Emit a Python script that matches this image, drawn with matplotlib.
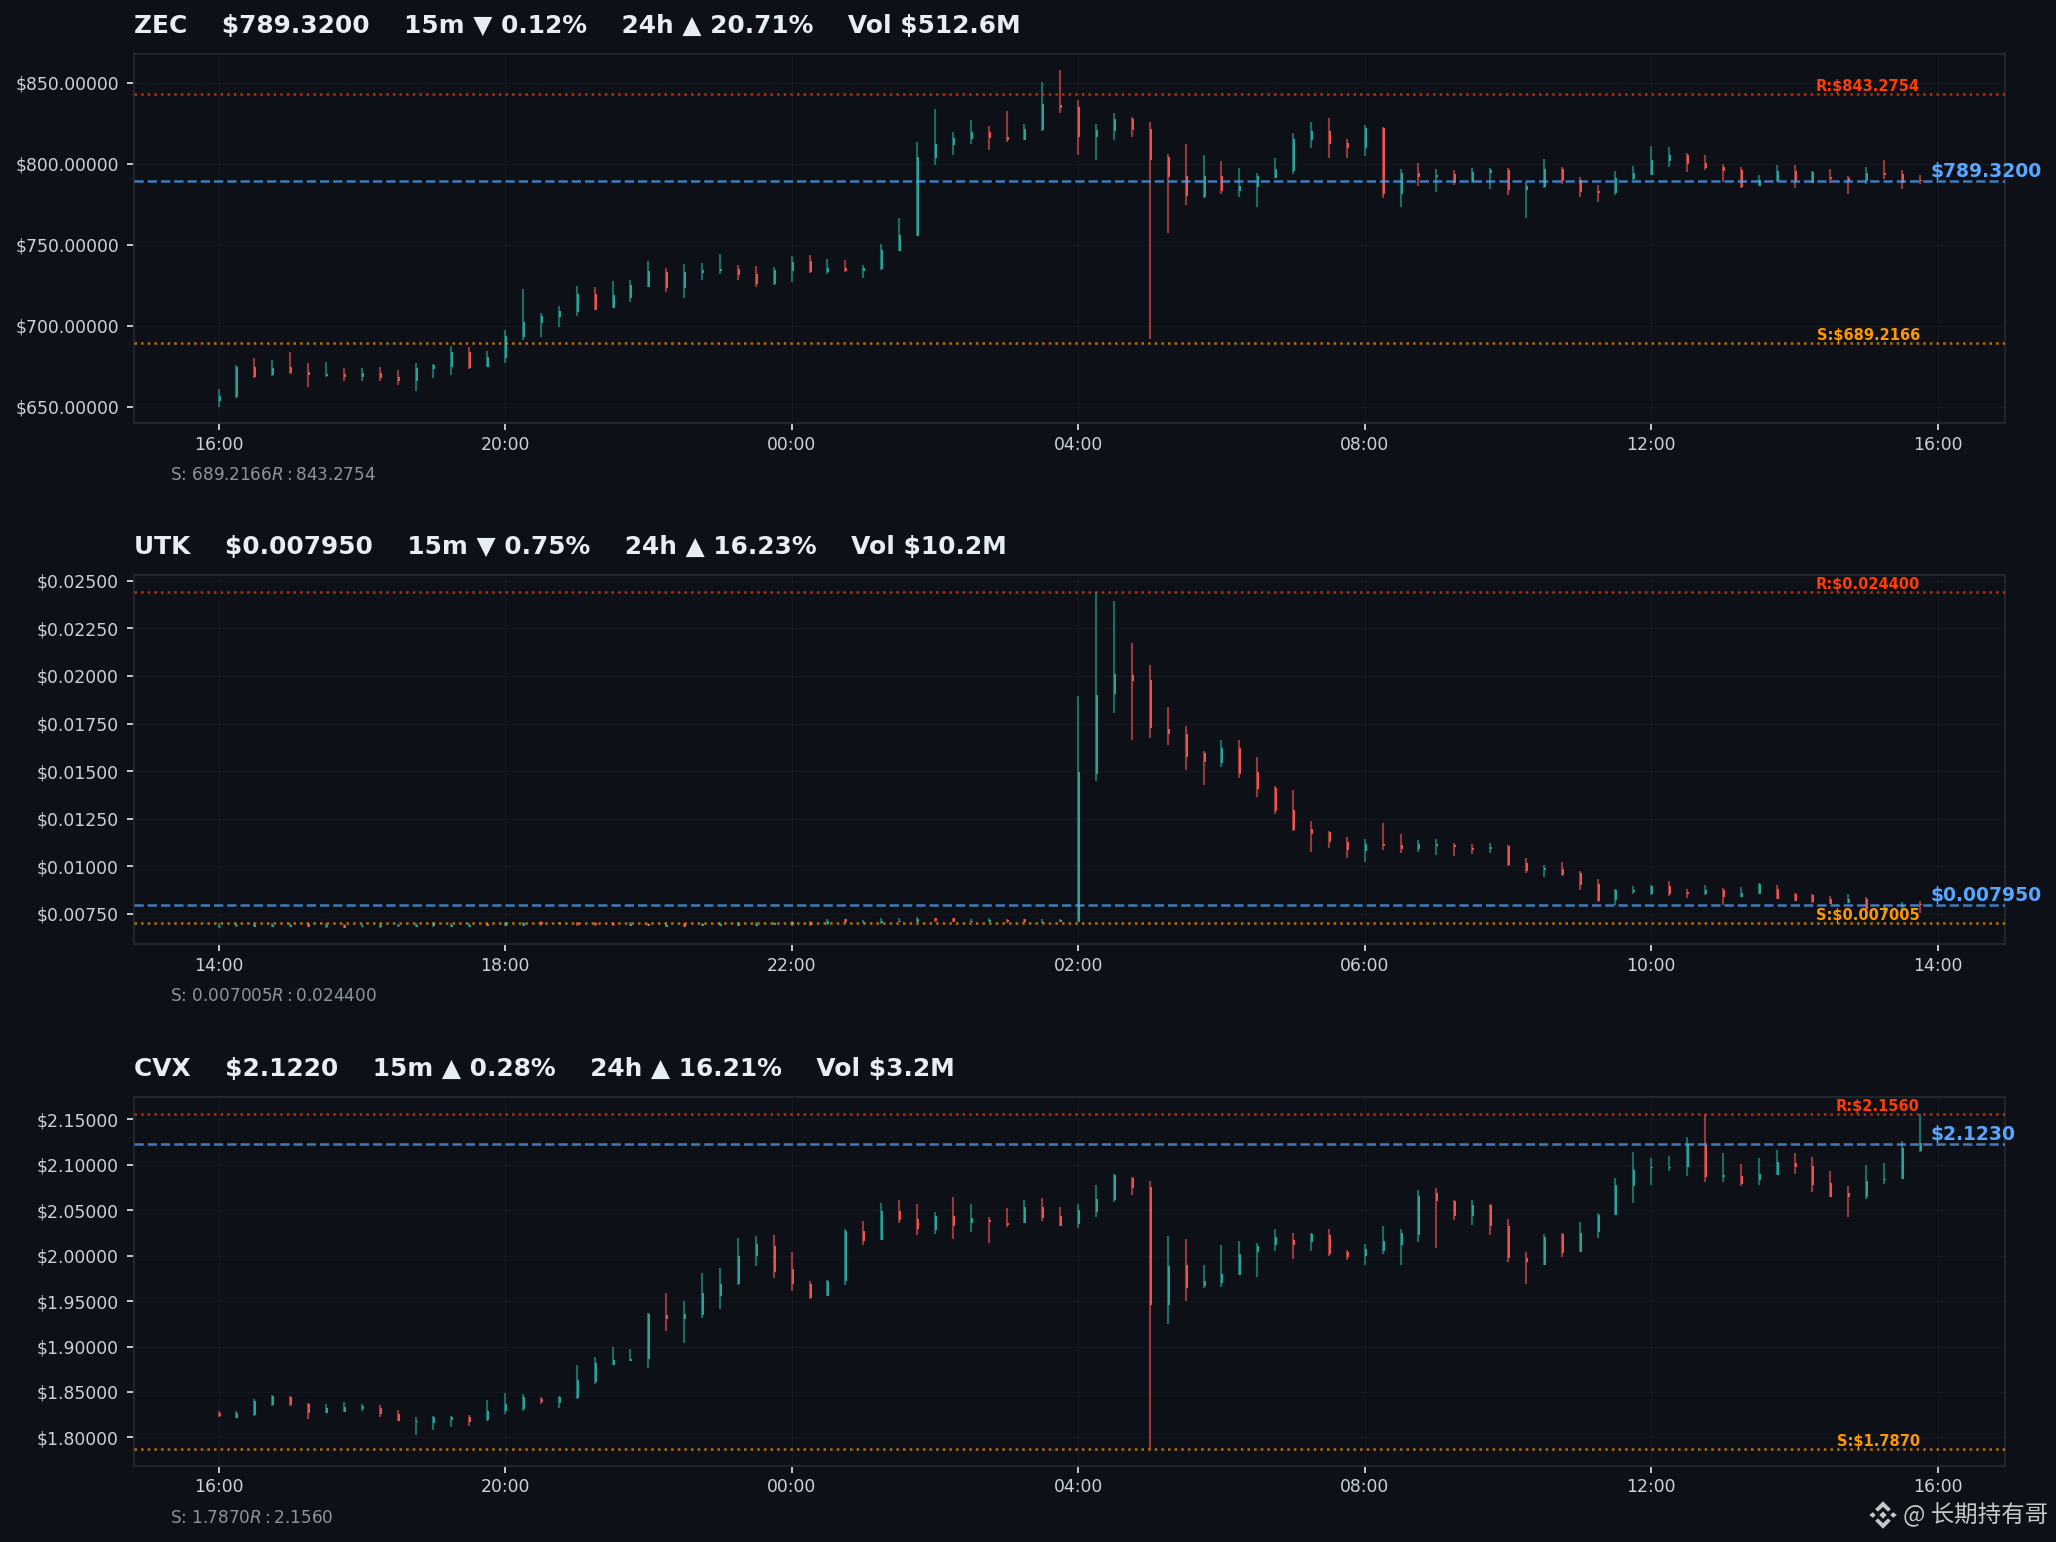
import numpy as np
import matplotlib
matplotlib.use("Agg")
import matplotlib.pyplot as plt
from matplotlib.patches import Polygon

BG = "#0d1117"
UP = "#26a69a"
DOWN = "#ef5350"
W, H = 2056, 1542

hours = np.arange(96) * 0.25
tick_hours = [0, 4, 8, 12, 16, 20, 24]

zec_open = [653.7,656,674.5,669.5,674.5,671.4,669.1,670.2,668.5,670.8,
    668.3,666,673.5,674.7,683.7,674.7,680.2,693.2,701.9,705.6,
    708.6,719.5,711.1,717.3,723.9,733.1,723.5,732.5,733.7,735,
    731.9,725.7,733.7,739.9,733.1,735.6,733.7,735,746.1,755.3,
    803.5,811.5,815.2,819.5,816.5,814.6,820.8,836.2,835,816.5,
    820.2,827.6,821.4,804.1,792.4,779.4,792.4,783.1,785.6,791.2,
    795.5,814.6,820.2,812.8,809.7,822,781.3,794.2,791.8,793.6,
    788.7,794.2,796.1,783.7,785.6,796.7,789.9,783.1,781.9,790.5,
    793,801.6,805.3,800.4,797.9,796.1,786.2,789.3,795.5,788,
    791.8,791.1,789.3,794.2,793.6,790.27]
zec_close = [656.6,674.5,668.5,673.9,671,669.8,670.2,668.5,670.8,667.9,
    666,673.9,675.9,683.7,674.1,680.7,693.6,702.3,706,709.1,
    719.5,709.9,718.9,725.1,733.7,723.5,733.1,734.4,735,731.3,
    725.7,734.4,739.3,733.1,735.6,733.7,735.6,746.7,756,804.1,
    812.1,815.8,819.5,815.8,814.6,821.4,836.8,834.4,816.5,820.8,
    827.6,820.8,802.3,791.8,780,792.4,783.1,786.2,792.4,796.7,
    815.2,820.2,812.1,809.7,822,781.3,794.2,791.8,793,788.1,
    794.9,796.1,783.7,786.2,796.7,789.3,782.5,781.9,791.1,794.2,
    802.3,805.3,799.8,797.3,795.5,785.6,789.9,795.5,789.3,794.8,
    790.5,789.3,794.2,793,788,789.32]
zec_high = [660.9,675.7,680,678.8,683.7,677,677.6,673.9,673.9,674.5,
    672.6,677,676.3,687.4,686.8,684.4,697.3,722.6,707.8,712.1,
    724.5,723.9,727.6,728.2,739.9,735.6,738.1,738.7,744.2,737.4,
    736.8,736.2,743,743.6,741.2,740.5,737.4,750.4,766.5,813.4,
    833.7,819.5,827,823.3,832.5,824.5,850.4,857.8,839.3,824.5,
    831.3,828.8,825.7,806,812.1,805.3,801.6,797.3,794.2,803.5,
    818.9,825.7,828.2,815.2,823.9,822.6,796.7,800.4,796.7,796.1,
    797.3,797.3,797.3,788.7,802.9,798,791.8,786.8,795.5,798.6,
    810.9,810.3,806.6,805.3,799.8,797.9,793,799.2,799.2,795.5,
    796.7,792.4,797.9,802.3,796.1,793]
zec_low = [650,655.6,668,669.1,670.4,662.3,668.5,666,666,666,
    663.6,659.9,668,669.8,673.5,674.7,677.2,691.4,693.2,699.4,
    706.2,709.9,711.1,714.8,723.9,721,717.3,728.2,731.9,728.2,
    723.9,725.1,727,732.5,731.9,733.1,729.4,734.4,746.1,755.3,
    799.2,805.3,812.1,808.4,813.4,814.6,820.2,831.3,805.3,802.3,
    814.6,816.5,691.8,757.2,774.5,778.8,781.3,779.4,773.3,791.2,
    793.6,809.7,803.5,803.5,804.7,778.8,773.3,786.2,782.5,786.8,
    788.1,784.4,780.7,766.5,785,787.4,779.4,776.3,780.6,790.3,
    793,797.9,794.9,796.1,788.7,785,786.2,788.7,785,788,
    788,781.3,787.4,790.5,784.4,787.4]

utk_open = [.00680,.00684,.00683,.00683,.00683,.00695,.00680,.00692,.00683,.00680,
    .00684,.00683,.00684,.00683,.00683,.00696,.00688,.00688,.00705,.00695,
    .00703,.00700,.00698,.00688,.00698,.00683,.00695,.00687,.00687,.00688,
    .00688,.00692,.00690,.00708,.00695,.00723,.00700,.00700,.00705,.00708,
    .00727,.00727,.00705,.00710,.00720,.00723,.00703,.00708,.00707,.01485,
    .01906,.02006,.01979,.01722,.01695,.01596,.01543,.01622,.01496,.01412,
    .01296,.01196,.0118,.01128,.01081,.01117,.01112,.01091,.01107,.01112,
    .01096,.01091,.01107,.01018,.00981,.00986,.00965,.00907,.00825,.00865,
    .00855,.00895,.00865,.00855,.00876,.00839,.00855,.00881,.00855,.0085,
    .00830,.00807,.00828,.00765,.00786,.00802]
utk_close = [.00688,.00690,.00692,.00692,.00694,.00682,.00692,.00678,.00688,.00690,
    .00690,.00692,.00695,.00693,.00692,.00688,.00700,.00700,.00695,.00704,
    .00690,.00690,.00690,.00696,.00687,.00690,.00683,.00695,.00695,.00698,
    .00698,.00700,.00708,.00692,.00715,.00710,.00710,.00712,.00715,.00722,
    .00715,.00709,.00715,.00720,.00705,.00710,.00710,.00716,.01496,.0190,
    .02011,.01974,.01727,.01695,.01575,.01548,.01622,.01485,.01406,.01291,
    .01191,.0117,.01128,.01086,.01117,.01107,.01091,.01117,.01117,.01102,
    .01086,.01102,.01007,.00976,.00991,.00954,.00902,.00818,.00875,.00876,
    .00895,.00855,.00855,.00876,.00839,.0086,.00907,.00828,.00818,.00812,
    .00802,.00828,.00776,.00786,.00797,.00795]
utk_high = [.00700,.00701,.00701,.00702,.00701,.00700,.00701,.00695,.00696,.00701,
    .00697,.00701,.00706,.00701,.00701,.00701,.00706,.00706,.00713,.00706,
    .00706,.00706,.00706,.00706,.00703,.00701,.00701,.00701,.00706,.00706,
    .00706,.00706,.00713,.00713,.00723,.00723,.00718,.00727,.00727,.00734,
    .00727,.00727,.00723,.00727,.00722,.00723,.00723,.00723,.01895,.0244,
    .02394,.02174,.02058,.01837,.01738,.01606,.01664,.01664,.01575,.01422,
    .01401,.01238,.01186,.01154,.01144,.01228,.0117,.01138,.01144,.01123,
    .01117,.01123,.01112,.01044,.01007,.01023,.00975,.00933,.00881,.00897,
    .00902,.00923,.00881,.00902,.00886,.00891,.00912,.00902,.0086,.00855,
    .00844,.00855,.00839,.00797,.00813,.00818]
utk_low = [.00678,.00680,.00683,.00682,.00682,.00680,.00678,.00676,.00683,.00678,
    .00683,.00683,.00683,.00683,.00683,.00687,.00687,.00688,.00688,.00695,
    .00687,.00688,.00688,.00688,.00685,.00683,.00681,.00687,.00687,.00688,
    .00688,.00692,.00688,.00688,.00692,.00700,.00700,.00698,.00705,.00708,
    .00708,.00708,.00705,.00710,.00701,.00701,.00703,.00708,.00707,.01448,
    .01806,.01664,.01674,.01638,.01506,.01427,.01522,.01464,.01364,.01275,
    .01187,.01075,.01096,.01044,.01023,.01086,.0107,.01075,.0106,.01054,
    .01065,.0107,.01002,.00965,.00944,.00949,.00876,.00813,.00795,.00855,
    .00849,.00844,.00834,.00849,.00797,.00839,.00855,.00828,.00818,.00807,
    .00802,.00807,.00771,.00755,.00771,.00755]

cvx_open = [1.8265,1.8210,1.8243,1.8353,1.8441,1.8368,1.8272,1.8276,1.8309,1.8320,
    1.8254,1.8166,1.8155,1.8188,1.8221,1.8188,1.8287,1.8309,1.8419,1.8375,
    1.8430,1.8606,1.8793,1.8837,1.8859,1.9344,1.9300,1.9344,1.9553,1.9685,
    1.9993,2.0104,1.9850,1.9685,1.9553,1.9718,2.0269,2.0170,2.0489,2.0401,
    2.0280,2.0434,2.0357,2.0390,2.0357,2.0357,2.0533,2.0434,2.0346,2.0478,
    2.0610,2.0852,2.0753,1.9454,1.9894,1.9663,1.9696,1.9784,2.0037,2.0115,
    2.0170,2.0148,2.0225,2.0037,1.9993,2.0048,2.0115,2.0225,2.0687,2.0599,
    2.0434,2.0555,2.0324,1.9971,1.9894,2.0236,2.0037,2.0258,2.0445,2.0764,
    2.0962,2.0962,2.0973,2.1215,2.0863,2.0874,2.0830,2.0885,2.1017,2.0984,
    2.0797,2.0687,2.0643,2.0830,2.0841,2.1149]
cvx_close = [1.8235,1.8265,1.8397,1.8456,1.8353,1.8265,1.8327,1.8331,1.8342,1.8254,
    1.8177,1.8177,1.8221,1.8221,1.8166,1.8287,1.8364,1.8441,1.8386,1.8441,
    1.8628,1.8815,1.8848,1.8859,1.9355,1.9300,1.9355,1.9586,1.9685,1.9993,
    2.0126,1.9817,1.9685,1.9531,1.9718,2.0269,2.0159,2.0489,2.0390,2.0291,
    2.0434,2.0324,2.0412,2.0368,2.0335,2.0533,2.0412,2.0324,2.0500,2.0621,
    2.0885,2.0742,1.9454,1.9883,1.9641,1.9718,1.9795,2.0015,2.0104,2.0203,
    2.0115,2.0236,2.0015,1.9982,2.0070,2.0159,2.0247,2.0654,2.0599,2.0434,
    2.0555,2.0324,1.9971,1.9927,2.0203,2.0026,2.0247,2.0445,2.0775,2.0940,
    2.0973,2.0973,2.1226,2.0863,2.0885,2.0786,2.0896,2.1028,2.0973,2.0775,
    2.0643,2.0643,2.0819,2.0841,2.1182,2.1237]
cvx_high = [1.8287,1.8287,1.8419,1.8463,1.8452,1.8375,1.8364,1.8386,1.8364,1.8353,
    1.8298,1.8221,1.8232,1.8232,1.8243,1.8408,1.8485,1.8474,1.8441,1.8452,
    1.8793,1.8881,1.8992,1.8970,1.9366,1.9586,1.9498,1.9806,1.9861,2.0192,
    2.0214,2.0225,2.0037,1.9718,1.9729,2.0291,2.0379,2.0577,2.0610,2.0566,
    2.0478,2.0643,2.0566,2.0423,2.0522,2.0610,2.0632,2.0533,2.0566,2.0775,
    2.0896,2.0863,2.0819,2.0214,2.0181,1.9894,2.0115,2.0159,2.0137,2.0291,
    2.0247,2.0247,2.0291,2.0059,2.0126,2.0324,2.0291,2.0720,2.0742,2.0610,
    2.0610,2.0566,2.0401,2.0037,2.0236,2.0247,2.0368,2.0467,2.0852,2.1138,
    2.1072,2.1094,2.1304,2.1560,2.1127,2.1006,2.1072,2.1160,2.1127,2.1083,
    2.0929,2.0764,2.0995,2.1017,2.1260,2.1560]
cvx_low = [1.8228,1.8210,1.8235,1.8342,1.8342,1.8199,1.8265,1.8276,1.8287,1.8221,
    1.8177,1.8023,1.8078,1.8111,1.8122,1.8177,1.8254,1.8287,1.8364,1.8320,
    1.8419,1.8584,1.8793,1.8837,1.8760,1.9168,1.9036,1.9311,1.9410,1.9674,
    1.9883,1.9751,1.9608,1.9520,1.9553,1.9674,2.0115,2.0170,2.0357,2.0225,
    2.0236,2.0181,2.0258,2.0137,2.0313,2.0357,2.0379,2.0324,2.0302,2.0423,
    2.0588,2.0665,1.7870,1.9245,1.9498,1.9641,1.9652,1.9784,1.9762,2.0048,
    1.9960,2.0048,1.9993,1.9949,1.9894,2.0015,1.9894,2.0148,2.0081,2.0390,
    2.0335,2.0225,1.9927,1.9685,1.9894,1.9982,2.0037,2.0191,2.0445,2.0577,
    2.0775,2.0929,2.0874,2.0808,2.0808,2.0764,2.0775,2.0885,2.0896,2.0698,
    2.0643,2.0423,2.0621,2.0786,2.0841,2.1142]

panels = [
    dict(title="ZEC    $789.3200    15m ▼ 0.12%    24h ▲ 20.71%    Vol $512.6M",
         ohlc=(zec_open, zec_high, zec_low, zec_close),
         support=689.2166, resist=843.2754, price=789.32, digits=4,
         price_label="$789.3200",
         yticks=[650, 700, 750, 800, 850], ylim=(640.1, 868.2),
         xlabels=["16:00", "20:00", "00:00", "04:00", "08:00", "12:00", "16:00"],
         box=(53.5, 423)),
    dict(title="UTK    $0.007950    15m ▼ 0.75%    24h ▲ 16.23%    Vol $10.2M",
         ohlc=(utk_open, utk_high, utk_low, utk_close),
         support=0.007005, resist=0.0244, price=0.00795, digits=6,
         price_label="$0.007950",
         yticks=[0.0075, 0.01, 0.0125, 0.015, 0.0175, 0.02, 0.0225, 0.025],
         ylim=(0.00592, 0.0253),
         xlabels=["14:00", "18:00", "22:00", "02:00", "06:00", "10:00", "14:00"],
         box=(575, 944)),
    dict(title="CVX    $2.1220    15m ▲ 0.28%    24h ▲ 16.21%    Vol $3.2M",
         ohlc=(cvx_open, cvx_high, cvx_low, cvx_close),
         support=1.787, resist=2.156, price=2.123, digits=4,
         price_label="$2.1230",
         yticks=[1.8, 1.85, 1.9, 1.95, 2.0, 2.05, 2.1, 2.15], ylim=(1.76855, 2.17445),
         xlabels=["16:00", "20:00", "00:00", "04:00", "08:00", "12:00", "16:00"],
         box=(1097, 1466)),
]


def draw_panel(ax, p):
    ax.set_facecolor(BG)
    o, h, l, c = [np.array(v) for v in p["ohlc"]]
    up = c >= o
    colors = np.where(up, UP, DOWN)

    ax.vlines(hours, l, h, colors=colors, linewidth=1.0, alpha=0.6, zorder=2)
    ax.bar(hours, np.abs(c - o), bottom=np.minimum(o, c), width=0.028, align="edge",
           color=colors, linewidth=0, zorder=2.5)

    ax.axhline(p["resist"], color="#ff3d00", ls=":", lw=1.2, alpha=0.7, zorder=3)
    ax.axhline(p["support"], color="#ff9800", ls=":", lw=1.2, alpha=0.7, zorder=3)
    ax.axhline(p["price"], color="#58a6ff", ls="--", lw=1.2, alpha=0.7, zorder=3)

    d = p["digits"]
    ax.text(hours[-1], p["resist"], f"R:${p['resist']:.{d}f}", color="#ff3d00", fontsize=7,
            fontweight="bold", ha="right", va="bottom", zorder=4)
    ax.text(hours[-1], p["support"], f"S:${p['support']:.{d}f}", color="#ff9800", fontsize=7,
            fontweight="bold", ha="right", va="bottom", zorder=4)
    ax.text(hours[-1] + 0.15, p["price"], p["price_label"], color="#58a6ff", fontsize=9,
            fontweight="bold", ha="left", va="bottom", zorder=4, clip_on=False)

    span = hours[-1] - hours[0]
    ax.set_xlim(hours[0] - 0.05 * span, hours[-1] + 0.05 * span)
    ax.set_ylim(*p["ylim"])
    ax.set_xticks(tick_hours)
    ax.set_xticklabels(p["xlabels"])
    ax.set_yticks(p["yticks"])
    ax.set_yticklabels([f"${v:.5f}" for v in p["yticks"]])
    ax.tick_params(colors="#c9d1d9", labelsize=8.3, length=3.5, width=0.9, pad=3.5)
    ax.tick_params(axis="x", pad=2.5)
    ax.grid(True, color="#c9d1d9", alpha=0.04, lw=0.5)
    ax.set_axisbelow(True)
    for s in ax.spines.values():
        s.set_color("#21262d")
        s.set_linewidth(1.0)

    ax.set_title(p["title"], loc="left", color="#e6edf3", fontsize=11.95, fontweight="bold",
                 pad=10, parse_math=False)
    # the single dollars pair up into mathtext here, same as the source chart
    ax.text(0.0195, -0.14, f"S: ${p['support']:.{d}f}  R: ${p['resist']:.{d}f}",
            transform=ax.transAxes, color="#8b949e", fontsize=8.1, va="center")


fig = plt.figure(figsize=(W / 150, H / 150), dpi=150, facecolor=BG)
for p in panels:
    top, bottom = p["box"]
    ax = fig.add_axes([133.5 / W, 1 - bottom / H, (2005 - 133.5) / W, (bottom - top) / H])
    draw_panel(ax, p)

# watermark, binance-style mark plus the handle
logo = fig.add_axes([1869 / W, 1 - 1529 / H, 28 / W, 28 / H])
logo.set_xlim(-1, 1)
logo.set_ylim(-1, 1)
logo.axis("off")
mark = "#c4c6c9"
for pts in [
    [(0, 0.26), (0.26, 0), (0, -0.26), (-0.26, 0)],
    [(-0.72, 0.2), (-0.52, 0), (-0.72, -0.2), (-0.98, 0)],
    [(0.72, 0.2), (0.98, 0), (0.72, -0.2), (0.52, 0)],
    [(0, 0.98), (0.56, 0.42), (0.36, 0.24), (0, 0.58), (-0.36, 0.24), (-0.56, 0.42)],
    [(0, -0.98), (0.56, -0.42), (0.36, -0.24), (0, -0.58), (-0.36, -0.24), (-0.56, -0.42)],
]:
    logo.add_patch(Polygon(pts, closed=True, color=mark, lw=0))
fig.text(1903 / W, 1 - 1515 / H, "@ 长期持有哥", color=mark, fontsize=11.3, va="center", ha="left",
         family=["Noto Sans CJK SC", "DejaVu Sans"])

fig.savefig("out.png", dpi=150, facecolor=BG)
